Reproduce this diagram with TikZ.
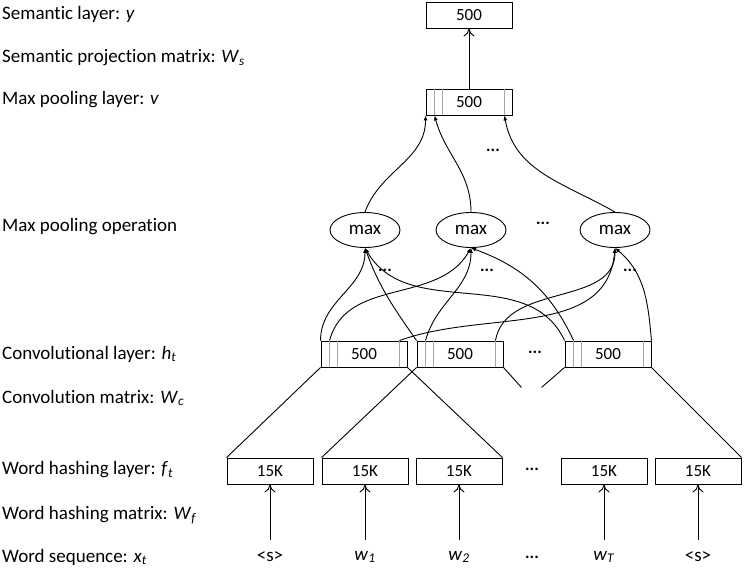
\documentclass[tikz,border=0pt]{standalone}
\usepackage{fontspec}
\setmainfont{Carlito}[Ligatures=NoCommon]
\usetikzlibrary{arrows.meta,positioning,shapes.geometric}

\tikzset{
  layer/.style={font=\fontsize{19}{22}\selectfont, anchor=west, inner sep=0pt},
  unit/.style={draw, line width=0.9pt, minimum width=86pt, minimum height=26pt, inner sep=0pt, font=\fontsize{17}{20}\selectfont},
  pool/.style={draw, line width=0.9pt, ellipse, minimum width=70pt, minimum height=35pt, inner sep=0pt, font=\fontsize{19}{22}\selectfont},
  word/.style={font=\fontsize{19}{22}\selectfont},
  dots/.style={font=\fontsize{17}{20}\bfseries\selectfont},
  feed/.style={line width=0.9pt, -{To[length=8pt,width=11pt]}},
  into/.style={line width=0.9pt, -{Latex[length=5pt,width=4pt]}},
  edge/.style={line width=0.9pt}
}

\begin{document}
\begin{tikzpicture}[x=1pt,y=-1pt]
  \useasboundingbox (0,0) rectangle (749,575);
  % Layer names
  \node[layer] at (2,14)  {Semantic layer: \textit{y}};
  \node[layer] at (2,58)  {Semantic projection matrix: \textit{W}\textsubscript{\textit{s}}};
  \node[layer] at (2,100) {Max pooling layer: \textit{v}};
  \node[layer] at (2,227) {Max pooling operation};
  \node[layer] at (2,354) {Convolutional layer: \textit{h}\textsubscript{\textit{t}}};
  \node[layer] at (2,398) {Convolution matrix: \textit{W}\textsubscript{\textit{c}}};
  \node[layer] at (2,470) {Word hashing layer: \textit{f}\textsubscript{\textit{t}}};
  \node[layer] at (2,515) {Word hashing matrix: \textit{W}\textsubscript{\textit{f}}};
  \node[layer] at (2,557) {Word sequence: \textit{x}\textsubscript{\textit{t}}};
  % Semantic and max pooling layers
  \node[unit] (sem) at (469,15) {500};
  \node[unit] (v) at (469,102) {500};
  % Convolutional layer
  \node[unit] (c1) at (364,354) {500};
  \node[unit] (c2) at (460,354) {500};
  \node[unit] (c3) at (608,354) {500};
  % Gray strips inside the vectors
  \foreach \n in {v,c1,c2,c3} {
    \draw[gray!70] ([xshift=9pt]\n.north west) -- ([xshift=9pt]\n.south west)
      coordinate[pos=0] (\n-a);
    \draw[gray!70] ([xshift=17pt]\n.north west) -- ([xshift=17pt]\n.south west);
    \draw[gray!70] ([xshift=-8pt]\n.north east) -- ([xshift=-8pt]\n.south east)
      coordinate[pos=0] (\n-b);
  }
  % Max pooling operations
  \node[pool] (m1) at (365,230) {max};
  \node[pool] (m2) at (471,230) {max};
  \node[pool] (m3) at (615,230) {max};
  % Word hashing layer
  \node[unit] (f1) at (270,471) {15K};
  \node[unit] (f2) at (365,471) {15K};
  \node[unit] (f3) at (459,471) {15K};
  \node[unit] (f4) at (604,471) {15K};
  \node[unit] (f5) at (698,471) {15K};
  % Word sequence
  \node[word] (x1) at (270,557) {<s>};
  \node[word] (x2) at (365,557) {\textit{w}\textsubscript{\textit{1}}};
  \node[word] (x3) at (459,557) {\textit{w}\textsubscript{\textit{2}}};
  \node[word] (x4) at (604,557) {\textit{w}\textsubscript{\textit{T}}};
  \node[word] (x5) at (698,557) {<s>};
  \foreach \i in {1,...,5}
    \draw[feed] (x\i.north) ++(0,-8) -- (f\i.south);
  % Convolution windows
  \draw[edge] (c1.south west) -- (f1.north west);
  \draw[edge] (c1.south east) -- (f3.north east);
  \draw[edge] (c2.south west) -- (f2.north west);
  \draw[edge] (c2.south east) -- ++(18,20);
  \draw[edge] (c3.south west) -- ++(-23,20);
  \draw[edge] (c3.south east) -- (f5.north east);
  % Convolution to max pooling
  \draw[into] (c1.north west) to[out=90,in=-90] (m1.south);
  \draw[into] (c2.north west) to[out=125,in=-70] (m1.south);
  \draw[into] (c3.north west) to[out=115,in=-60] (m1.south);
  \draw[into] (c1-a) to[out=75,in=-120] (m2.south);
  \draw[into] (c2-a) to[out=75,in=-90] (m2.south);
  \draw[into] (c3-a) to[out=115,in=-20] (m2.south);
  \draw[into] (c1-b) to[out=20,in=-95] (m3.south);
  \draw[into] (c2-b) to[out=80,in=-90] (m3.south);
  \draw[into] (c3.north east) to[out=95,in=-40] (m3.south);
  % Max pooling to vector
  \draw[into] (m1.north) to[out=70,in=-90] (v.south west);
  \draw[into] (m2.north) to[out=90,in=-75] (v-a |- v.south);
  \draw[into] (m3.north) to[out=150,in=-80] (v-b |- v.south);
  \draw[feed] (v.north) -- (sem.south);
  % Ellipses
  \node[dots] at (385,270) {...};
  \node[dots] at (487,270) {...};
  \node[dots] at (630,270) {...};
  \node[dots] at (543,223) {...};
  \node[dots] at (493,150) {...};
  \node[dots] at (535,352) {...};
  \node[dots] at (532,469) {...};
  \node[dots] at (532,557) {...};
\end{tikzpicture}
\end{document}
